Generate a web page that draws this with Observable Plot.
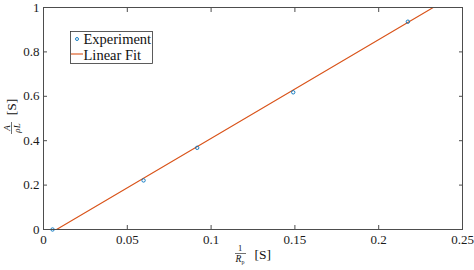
<!DOCTYPE html>
<html>
<head>
<meta charset="utf-8">
<script src="https://cdn.jsdelivr.net/npm/d3@7"></script>
<script src="https://cdn.jsdelivr.net/npm/@observablehq/plot@0.6"></script>
<style>
  html, body { margin: 0; padding: 0; background: white; }
  #chart svg, #chart svg text, #chart svg tspan { font-family: 'Liberation Serif', serif !important; }
</style>
</head>
<body>
<div id="chart"></div>
<script>
// Data
const invR = [0.0054, 0.0597, 0.0917, 0.149, 0.2174];      // 1/R_p [S]
const conductance = [0.0, 0.221, 0.368, 0.618, 0.936];     // A/(rho L) [S]
const fitSlope = 4.45;
const fitIntercept = -0.0347;
const xTicks = [0, 0.05, 0.1, 0.15, 0.2, 0.25];
const xTickLabels = ["0", "0.05", "0.1", "0.15", "0.2", "0.25"];
const yTicks = [0, 0.2, 0.4, 0.6, 0.8, 1];
const yTickLabels = ["0", "0.2", "0.4", "0.6", "0.8", "1"];
const legendLabels = ["Experiment", "Linear Fit"];

const points = invR.map((x, i) => ({x, y: conductance[i]}));
const fitLine = [
  {x: (0 - fitIntercept) / fitSlope, y: 0},
  {x: (1 - fitIntercept) / fitSlope, y: 1}
];

const blue = "#0072BD", orange = "#D95319", axisCol = "#4d4d4d";
const font = "Liberation Serif";
const T = 4; // inward tick length

const chart = Plot.plot({
  width: 474, height: 270,
  marginLeft: 43, marginRight: 12, marginTop: 7, marginBottom: 41,
  style: {fontFamily: font, fontSize: "13px", color: "#1a1a1a", background: "white"},
  x: {domain: [0, 0.25]},
  y: {domain: [0, 1]},
  marks: [
    Plot.line(fitLine, {x: "x", y: "y", stroke: orange, strokeWidth: 1.1}),
    Plot.dot(points, {x: "x", y: "y", r: 1.7, stroke: blue, strokeWidth: 0.9, fill: "none"}),
    Plot.frame({stroke: axisCol}),
    // inward tick marks on all four sides
    Plot.axisX({ticks: xTicks, tickSize: T, dy: -T, stroke: axisCol, label: null, tickFormat: () => null}),
    Plot.axisX({anchor: "top", ticks: xTicks, tickSize: T, dy: T, stroke: axisCol, label: null, tickFormat: () => null}),
    Plot.axisY({ticks: yTicks, tickSize: T, dx: T, stroke: axisCol, label: null, tickFormat: () => null}),
    Plot.axisY({anchor: "right", ticks: yTicks, tickSize: T, dx: -T, stroke: axisCol, label: null, tickFormat: () => null}),
    // tick labels
    Plot.axisX({ticks: xTicks, tickSize: 0, tickPadding: 5, label: null,
      tickFormat: d => xTickLabels[xTicks.indexOf(d)]}),
    Plot.axisY({ticks: yTicks, tickSize: 0, tickPadding: 4, label: null,
      tickFormat: d => yTickLabels[yTicks.indexOf(d)]})
  ]
});

document.getElementById("chart").appendChild(chart);
const svg = d3.select(chart);

// Legend
const lg = svg.append("g").attr("font-family", font).attr("font-size", 14.5).attr("fill", "#111").attr("text-anchor", "start");
lg.append("rect").attr("x", 70.5).attr("y", 31.5).attr("width", 82).attr("height", 32)
  .attr("fill", "white").attr("stroke", "#333").attr("stroke-width", 0.8);
lg.append("circle").attr("cx", 77).attr("cy", 39).attr("r", 1.5)
  .attr("fill", "none").attr("stroke", blue).attr("stroke-width", 0.9);
lg.append("text").attr("x", 83.5).attr("y", 43.5).text(legendLabels[0]);
lg.append("line").attr("x1", 71).attr("x2", 83).attr("y1", 54).attr("y2", 54)
  .attr("stroke", orange).attr("stroke-width", 1.1);
lg.append("text").attr("x", 83.5).attr("y", 59.5).text(legendLabels[1]);

// X label: 1/R_p [S]
const xl = svg.append("g").attr("font-family", font).attr("fill", "#111");
xl.append("text").attr("x", 240).attr("y", 251).attr("font-size", 8.5).attr("text-anchor", "middle").text("1");
xl.append("line").attr("x1", 235).attr("x2", 246).attr("y1", 253.5).attr("y2", 253.5).attr("stroke", "#111").attr("stroke-width", 0.6);
const rp = xl.append("text").attr("x", 240).attr("y", 262).attr("font-size", 9.5).attr("text-anchor", "middle").attr("font-style", "italic");
rp.append("tspan").text("R");
rp.append("tspan").attr("font-size", 6).attr("font-style", "normal").attr("dy", 1.5).text("p");
xl.append("text").attr("x", 254.5).attr("y", 258.5).attr("font-size", 13.5).attr("text-anchor", "start").text("[S]");

// Y label: A/(rho L) [S], rotated
const yl = svg.append("g").attr("font-family", font).attr("fill", "#111")
  .attr("transform", "translate(11,118) rotate(-90)");
yl.append("text").attr("x", -10).attr("y", -1.5).attr("font-size", 9).attr("text-anchor", "middle").attr("font-style", "italic").text("A");
yl.append("line").attr("x1", -16).attr("x2", -4).attr("y1", 0.5).attr("y2", 0.5).attr("stroke", "#111").attr("stroke-width", 0.6);
yl.append("text").attr("x", -10).attr("y", 8.5).attr("font-size", 9).attr("text-anchor", "middle").attr("font-style", "italic").text("ρL");
yl.append("text").attr("x", 11).attr("y", 4.5).attr("font-size", 13.5).attr("text-anchor", "middle").text("[S]");
</script>
</body>
</html>
